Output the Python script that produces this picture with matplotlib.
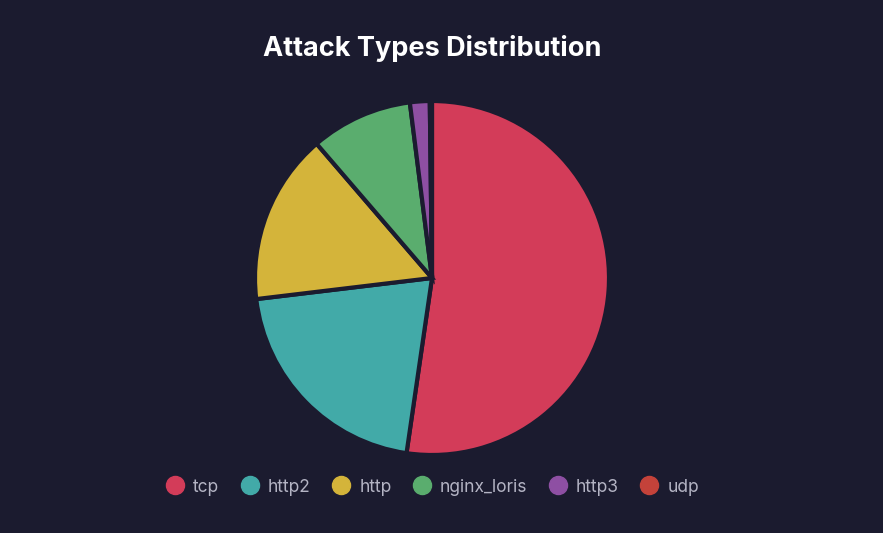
import matplotlib
matplotlib.use("Agg")
import matplotlib.pyplot as plt
from matplotlib.lines import Line2D

labels = ["tcp", "http2", "http", "nginx_loris", "http3", "udp"]
values = [52.3, 20.8, 15.6, 9.3, 1.8, 0.2]
colors = ["#d33c59", "#42aaa8", "#d4b43a", "#5aad6e", "#8e4fa3", "#c4423a"]

bg = "#1b1b2f"
fig = plt.figure(figsize=(8.83, 5.33), dpi=100, facecolor=bg)
ax = fig.add_axes([(432-177)/883, (533-278-177)/533, 354/883, 354/533])
ax.set_facecolor(bg)
ax.pie(values, colors=colors, startangle=90, counterclock=False,
       wedgeprops=dict(edgecolor=bg, linewidth=3))
ax.set_xlim(-1.0, 1.0)
ax.set_ylim(-1.0, 1.0)
ax.set_aspect("equal")
ax.axis("off")

fig.text(432/883, 1-48/533, "Attack Types Distribution", ha="center", va="center",
         color="white", fontsize=19.5, fontweight="bold", family=["Inter", "DejaVu Sans"])

handles = [Line2D([0], [0], marker="o", linestyle="", markersize=13,
                  markerfacecolor=c, markeredgecolor=c) for c in colors]
leg = fig.legend(handles, labels, loc="center", bbox_to_anchor=(431/883, 1-487/533),
                 ncol=6, frameon=False, handletextpad=0.35, columnspacing=1.05,
                 handlelength=1.4,
                 prop=dict(family=["Inter", "DejaVu Sans"], size=12.5))
for t in leg.get_texts():
    t.set_color("#b4b4c4")

fig.savefig("out.png", dpi=100, facecolor=bg)
